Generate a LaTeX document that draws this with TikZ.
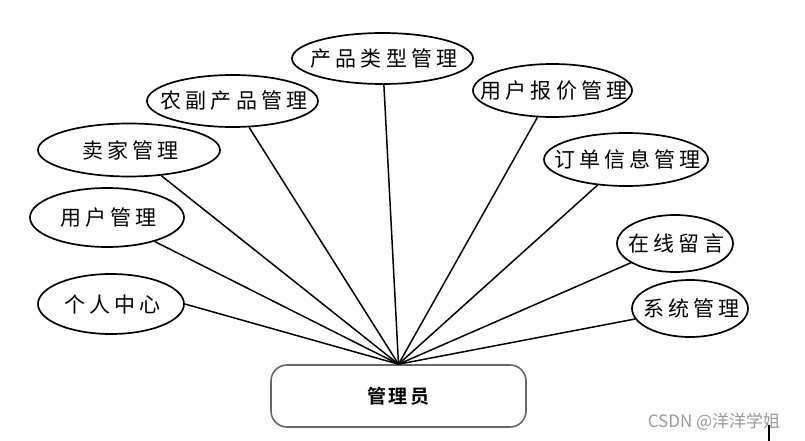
\documentclass[tikz,border=0pt]{standalone}
\usepackage{fontspec}
\usepackage{tikz}
\usetikzlibrary{shapes.geometric}
\newfontfamily\cjk[LetterSpace=20]{Noto Sans CJK SC}
\newfontfamily\cjkbold[LetterSpace=15]{Noto Sans CJK SC Bold}
\newfontfamily\wmfont{Noto Sans CJK SC}
\newcommand{\lbl}[1]{\makebox[0pt][c]{\hspace{3pt}#1}}

\begin{document}
\begin{tikzpicture}[x=1pt, y=-1pt,
    item/.style={ellipse, draw, line width=1.7pt, inner sep=0pt,
        font=\cjk\fontsize{21}{24}\selectfont},
    adminbox/.style={rectangle, rounded corners=16pt, draw=black!60, line width=1.6pt,
        minimum width=255pt, minimum height=62pt,
        font=\cjkbold\fontsize{19}{23}\selectfont},
    link/.style={line width=1.5pt}]
\useasboundingbox (0,0) rectangle (805,441);

\node[adminbox] (admin) at (398.5,396) {管理员};
\coordinate (hub) at (admin.north);

% the modules round the admin
\node[item, minimum width=181pt, minimum height=51pt] (cplx) at (382.5,58.5) {\lbl{产品类型管理}};
\node[item, minimum width=171pt, minimum height=52pt] (nfcp) at (232.5,101) {\lbl{农副产品管理}};
\node[item, minimum width=182pt, minimum height=53pt] (mjgl) at (129,150) {\lbl{卖家管理}};
\node[item, minimum width=154pt, minimum height=59pt] (yhgl) at (107,217.5) {\lbl{用户管理}};
\node[item, minimum width=146pt, minimum height=60pt] (grzx) at (111,304) {\lbl{个人中心}};
\node[item, minimum width=159pt, minimum height=53pt] (yhbj) at (552.5,90.5) {\lbl{用户报价管理}};
\node[item, minimum width=164pt, minimum height=53pt] (ddxx) at (626,159.5) {\lbl{订单信息管理}};
\node[item, minimum width=116pt, minimum height=57pt] (zxly) at (675,243.5) {\lbl{在线留言}};
\node[item, minimum width=116pt, minimum height=57pt] (xtgl) at (690,308.5) {\lbl{系统管理}};

\draw[link] (hub) -- (grzx.east);
\foreach \m in {yhgl, mjgl, nfcp, cplx, yhbj, ddxx, zxly, xtgl}
    \draw[link] (hub) -- (\m);

% watermark
\node[text=black!40, font=\wmfont\fontsize{17}{20}\selectfont] (mark) at (714,422) {CSDN @洋洋学姐};
\draw[line width=1.6pt] (769,425) -- (769,441);
\end{tikzpicture}
\end{document}
